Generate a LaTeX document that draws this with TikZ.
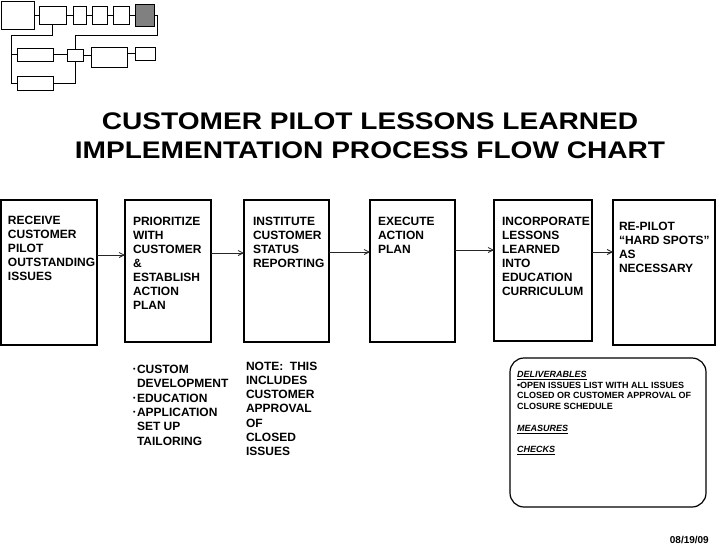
\documentclass[tikz,border=0pt]{standalone}
\usepackage{fontspec}
\setmainfont{Liberation Sans}
\usetikzlibrary{arrows.meta}
\newcommand{\bul}{\makebox[4pt][l]{\raisebox{2pt}{\fontsize{7}{7}\selectfont •}}}
\newcommand{\ind}{\hspace*{4pt}}
\begin{document}
\begin{tikzpicture}[x=1pt,y=-1pt,
 box/.style={draw,line width=1.2pt,anchor=north west,inner sep=0,outer sep=0},
 lbox/.style={draw,line width=0.9pt,anchor=north west,inner sep=0,outer sep=0},
 lline/.style={line width=0.9pt},
 arr/.style={line width=0.8pt,draw=black!85,-{Straight Barb[length=5pt,width=5pt]}},
 txt/.style={anchor=north west,inner sep=0,outer sep=0,align=left,font=\bfseries\fontsize{12}{14}\selectfont},
 smalltxt/.style={anchor=north west,inner sep=0,outer sep=0,align=left,font=\bfseries\fontsize{9}{10.8}\selectfont}]
\useasboundingbox (0,0) rectangle (728,546);
% logo
\node[lbox,minimum width=33pt,minimum height=28pt] (L0) at (1,1) {};
\node[lbox,minimum width=27pt,minimum height=18pt] (L2) at (39,6) {};
\node[lbox,minimum width=13pt,minimum height=18pt] (L3) at (73,6) {};
\node[lbox,minimum width=15pt,minimum height=18pt] (L4) at (92,6) {};
\node[lbox,minimum width=16pt,minimum height=18pt] (L5) at (113,6) {};
\node[lbox,fill=black!50,minimum width=19pt,minimum height=22pt] (G) at (135,4) {};
\node[lbox,minimum width=36pt,minimum height=13pt] (LM) at (17,48) {};
\node[lbox,minimum width=16pt,minimum height=12pt] (SM) at (67,49) {};
\node[lbox,minimum width=36pt,minimum height=20pt] (RM) at (91,47) {};
\node[lbox,minimum width=20pt,minimum height=13pt] (FR) at (135,47) {};
\node[lbox,minimum width=36pt,minimum height=14pt] (BB) at (17,76) {};
\coordinate (c1) at (157,35);
\coordinate (c2) at (11,35);
\draw[lline] (L0.east) -- (L2.west);
\draw[lline] (L2.east) -- (L3.west);
\draw[lline] (L3.east) -- (L4.west);
\draw[lline] (L4.east) -- (L5.west);
\draw[lline] (L5.east) -- (G.west);
\draw[lline] (G.east) -| (c1) -| (SM.north);
\draw[lline] (L2.south) |- (c2) |- (BB.west);
\draw[lline] (c2 |- LM.west) -- (LM.west);
\draw[lline] (LM.east) -- (LM.east -| SM.west);
\draw[lline] (SM.east) -- (SM.east -| RM.west);
\draw[lline] (RM.east |- FR.west) -- (FR.west);
\draw[lline] (BB.east) -| (SM.south);
% title
\node[anchor=north,inner sep=0,align=center,font=\bfseries\fontsize{24}{29}\selectfont] (title) at (370,113)
 {\scalebox{1.17}[1]{CUSTOMER PILOT LESSONS LEARNED}\\\scalebox{1.17}[1]{IMPLEMENTATION PROCESS FLOW CHART}};
% process boxes
\node[box,minimum width=96pt,minimum height=145pt] (b1) at (1,200) {};
\node[box,minimum width=86pt,minimum height=142pt] (b2) at (125,200) {};
\node[box,minimum width=85pt,minimum height=142pt] (b3) at (244,200) {};
\node[box,minimum width=85pt,minimum height=142pt] (b4) at (370,200) {};
\node[box,minimum width=98pt,minimum height=141pt] (b5) at (494,200) {};
\node[box,minimum width=102pt,minimum height=145pt] (b6) at (613,200) {};
\node[txt] (t1) at ([shift={(7pt,-16.5pt)}]b1.north west) {RECEIVE\\CUSTOMER\\PILOT\\OUTSTANDING\\ISSUES};
\node[txt] (t2) at ([shift={(8pt,-17pt)}]b2.north west) {PRIORITIZE\\WITH\\CUSTOMER\\\&\\ESTABLISH\\ACTION\\PLAN};
\node[txt] (t3) at ([shift={(9pt,-17pt)}]b3.north west) {INSTITUTE\\CUSTOMER\\STATUS\\REPORTING};
\node[txt] (t4) at ([shift={(8pt,-17pt)}]b4.north west) {EXECUTE\\ACTION\\PLAN};
\node[txt] (t5) at ([shift={(8pt,-17pt)}]b5.north west) {INCORPORATE\\LESSONS\\LEARNED\\INTO\\EDUCATION\\CURRICULUM};
\node[txt] (t6) at ([shift={(6pt,-22pt)}]b6.north west) {RE-PILOT\\“HARD SPOTS”\\AS\\NECESSARY};
% arrows
\draw[arr] ([yshift=17.5pt]b1.east) -- ([yshift=17.5pt]b1.east -| b2.west);
\draw[arr] ([yshift=18pt]b2.east) -- ([yshift=18pt]b2.east -| b3.west);
\draw[arr] ([yshift=19pt]b3.east) -- ([yshift=19pt]b3.east -| b4.west);
\draw[arr] ([yshift=21pt]b4.east) -- ([yshift=21pt]b4.east -| b5.west);
\draw[arr] ([yshift=18.5pt]b5.east) -- ([yshift=18.5pt]b5.east -| b6.west);
% notes
\node[txt,font=\bfseries\fontsize{12}{14.4}\selectfont] (n1) at (133,365)
 {\bul CUSTOM\\\ind DEVELOPMENT\\\bul EDUCATION\\\bul APPLICATION\\\ind SET UP\\\ind TAILORING};
\node[txt,font=\bfseries\fontsize{12}{14.2}\selectfont] (n2) at (246,362)
 {NOTE:\ \ THIS\\INCLUDES\\CUSTOMER\\APPROVAL\\OF\\CLOSED\\ISSUES};
% deliverables
\node[draw,line width=1.2pt,rounded corners=14pt,anchor=north west,inner sep=0,outer sep=0,minimum width=196pt,minimum height=149pt] (del) at (510,358) {};
\node[smalltxt] (dt) at ([shift={(7pt,-13pt)}]del.north west)
 {\underline{\textit{DELIVERABLES}}\\
 •OPEN ISSUES LIST WITH ALL ISSUES\\
 CLOSED OR CUSTOMER APPROVAL OF\\
 CLOSURE SCHEDULE\\[10.8pt]
 \underline{\textit{MEASURES}}\\[10.8pt]
 \underline{\textit{CHECKS}}};
% date
\node[anchor=base east,inner sep=0,font=\bfseries\fontsize{10}{12}\selectfont] (date) at (709,543) {08/19/09};
\end{tikzpicture}
\end{document}
